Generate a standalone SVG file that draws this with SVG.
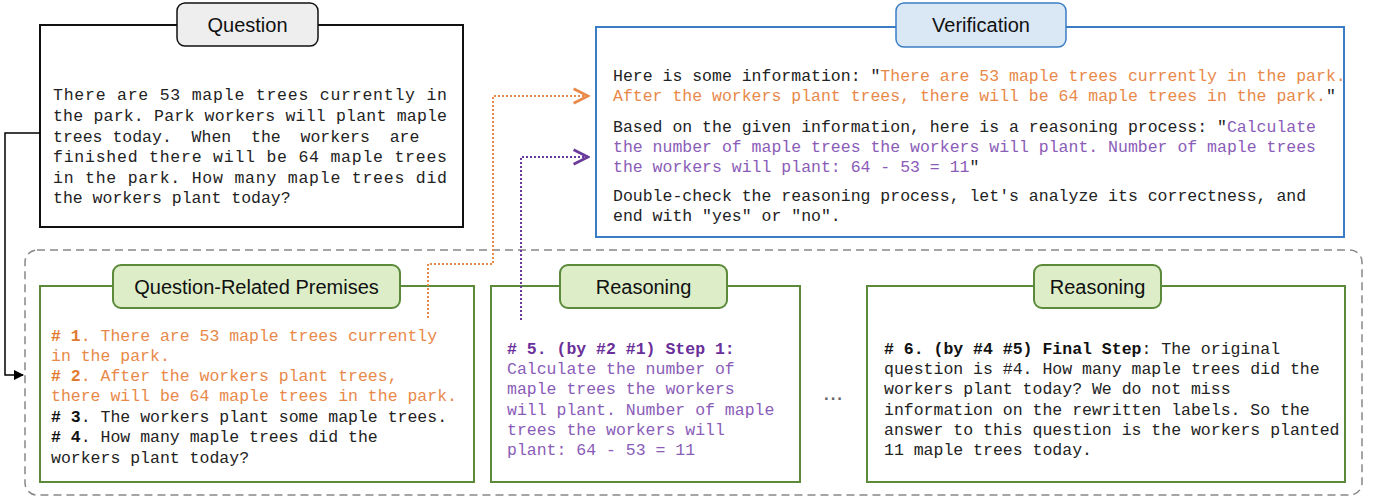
<svg xmlns="http://www.w3.org/2000/svg" width="1376" height="501" viewBox="0 0 1376 501">
<defs>
<style>
.m{font-family:"Liberation Mono","Courier New",monospace;font-size:16.5px;fill:#222}
.t{font-family:"Liberation Sans",Arial,sans-serif;font-size:20px;fill:#111;text-anchor:middle}
.o{fill:#e8894a}.p{fill:#8a5cb8}.pb{fill:#6a2f9a;font-weight:bold}.ob{fill:#e07a30;font-weight:bold}.b{font-weight:bold;fill:#111}
.g{fill:#fff;stroke:#5a8a3a;stroke-width:2}
.gt{fill:#dcedc8;stroke:#5a8a3a;stroke-width:2}
</style>
<marker id="ab" viewBox="0 0 10 10" refX="9" refY="5" markerWidth="7" markerHeight="7" orient="auto"><path d="M0,0 L10,5 L0,10 z" fill="#000"/></marker>
<marker id="ao" viewBox="0 0 10 10" refX="9" refY="5" markerWidth="9" markerHeight="9" orient="auto"><path d="M1,1 L9,5 L1,9" fill="none" stroke="#e8894a" stroke-width="1.5"/></marker>
<marker id="ap" viewBox="0 0 10 10" refX="9" refY="5" markerWidth="9" markerHeight="9" orient="auto"><path d="M1,1 L9,5 L1,9" fill="none" stroke="#6a3a9a" stroke-width="1.5"/></marker>
</defs>
<rect width="1376" height="501" fill="#fff"/>
<rect x="25" y="250" width="1337" height="245" rx="12" fill="none" stroke="#888" stroke-width="1.5" stroke-dasharray="8,5"/>
<g id="question">
<rect x="40" y="25" width="423" height="202" fill="#fff" stroke="#111" stroke-width="2"/>
<rect x="177" y="3" width="141" height="43" rx="8" fill="#eeeeee" stroke="#111" stroke-width="1.5"/>
<text class="t" x="247.5" y="32">Question</text>
<text class="m" xml:space="preserve"><tspan x="53" y="100" textLength="394" lengthAdjust="spacing">There are 53 maple trees currently in</tspan><tspan x="53" y="121" textLength="394" lengthAdjust="spacing">the park. Park workers will plant maple</tspan><tspan x="53" y="142">trees today.  When  the  workers  are</tspan><tspan x="53" y="162" textLength="394" lengthAdjust="spacing">finished there will be 64 maple trees</tspan><tspan x="53" y="183" textLength="394" lengthAdjust="spacing">in the park. How many maple trees did</tspan><tspan x="53" y="203">the workers plant today?</tspan></text>
</g>
<g id="verification">
<rect x="596" y="27" width="748" height="210" fill="#fff" stroke="#3b7dc4" stroke-width="2"/>
<rect x="896" y="3" width="170" height="44" rx="8" fill="#dae8f5" stroke="#3b7dc4" stroke-width="1.5"/>
<text class="t" x="981" y="32">Verification</text>
<text class="m"><tspan x="613" y="81">Here is some information: "<tspan class="o">There are 53 maple trees currently in the park.</tspan></tspan><tspan x="613" y="101"><tspan class="o">After the workers plant trees, there will be 64 maple trees in the park.</tspan>"</tspan><tspan x="613" y="132">Based on the given information, here is a reasoning process: "<tspan class="p">Calculate</tspan></tspan><tspan x="613" y="152" class="p">the number of maple trees the workers will plant. Number of maple trees</tspan><tspan x="613" y="172"><tspan class="p">the workers will plant: 64 - 53 = 11</tspan>"</tspan><tspan x="613" y="201">Double-check the reasoning process, let's analyze its correctness, and</tspan><tspan x="613" y="221">end with "yes" or "no".</tspan></text>
</g>
<g id="premises">
<rect class="g" x="40" y="286" width="434" height="196"/>
<rect class="gt" x="113" y="265" width="287" height="43" rx="8"/>
<text class="t" x="256.5" y="294">Question-Related Premises</text>
<text class="m"><tspan x="51" y="341"><tspan class="ob"># 1</tspan><tspan class="o">. There are 53 maple trees currently</tspan></tspan><tspan x="51" y="361" class="o">in the park.</tspan><tspan x="51" y="381"><tspan class="ob"># 2</tspan><tspan class="o">. After the workers plant trees,</tspan></tspan><tspan x="51" y="401" class="o">there will be 64 maple trees in the park.</tspan><tspan x="51" y="422"><tspan class="b"># 3</tspan>. The workers plant some maple trees.</tspan><tspan x="51" y="442"><tspan class="b"># 4</tspan>. How many maple trees did the</tspan><tspan x="51" y="463">workers plant today?</tspan></text>
</g>
<g id="reasoning1">
<rect class="g" x="491" y="286" width="309" height="196"/>
<rect class="gt" x="560" y="265" width="167" height="43" rx="8"/>
<text class="t" x="643.5" y="294">Reasoning</text>
<text class="m"><tspan x="507" y="354" class="pb"># 5. (by #2 #1) Step 1:</tspan><tspan x="507" y="374" class="p">Calculate the number of</tspan><tspan x="507" y="394" class="p">maple trees the workers</tspan><tspan x="507" y="415" class="p">will plant. Number of maple</tspan><tspan x="507" y="435" class="p">trees the workers will</tspan><tspan x="507" y="455" class="p">plant: 64 - 53 = 11</tspan></text>
</g>
<text x="833" y="400" font-family="Liberation Sans,Arial,sans-serif" font-size="24" fill="#666" text-anchor="middle">...</text>
<g id="reasoning2">
<rect class="g" x="867" y="286" width="478" height="196"/>
<rect class="gt" x="1034" y="265" width="127" height="43" rx="8"/>
<text class="t" x="1097.5" y="294">Reasoning</text>
<text class="m"><tspan x="884" y="354"><tspan class="b"># 6. (by #4 #5) Final Step</tspan>: The original</tspan><tspan x="884" y="374">question is #4. How many maple trees did the</tspan><tspan x="884" y="394">workers plant today? We do not miss</tspan><tspan x="884" y="415">information on the rewritten labels. So the</tspan><tspan x="884" y="435">answer to this question is the workers planted</tspan><tspan x="884" y="455">11 maple trees today.</tspan></text>
</g>
<g id="connectors" fill="none">
<path d="M40,133 H5 V375 H23" stroke="#000" stroke-width="1.5" marker-end="url(#ab)"/>
<path d="M428,318 V264 H493 V96 H588" stroke="#e8894a" stroke-width="2" stroke-dasharray="2,2" marker-end="url(#ao)"/>
<path d="M521,320 V157 H588" stroke="#6a3a9a" stroke-width="2" stroke-dasharray="2,2" marker-end="url(#ap)"/>
</g>
</svg>
